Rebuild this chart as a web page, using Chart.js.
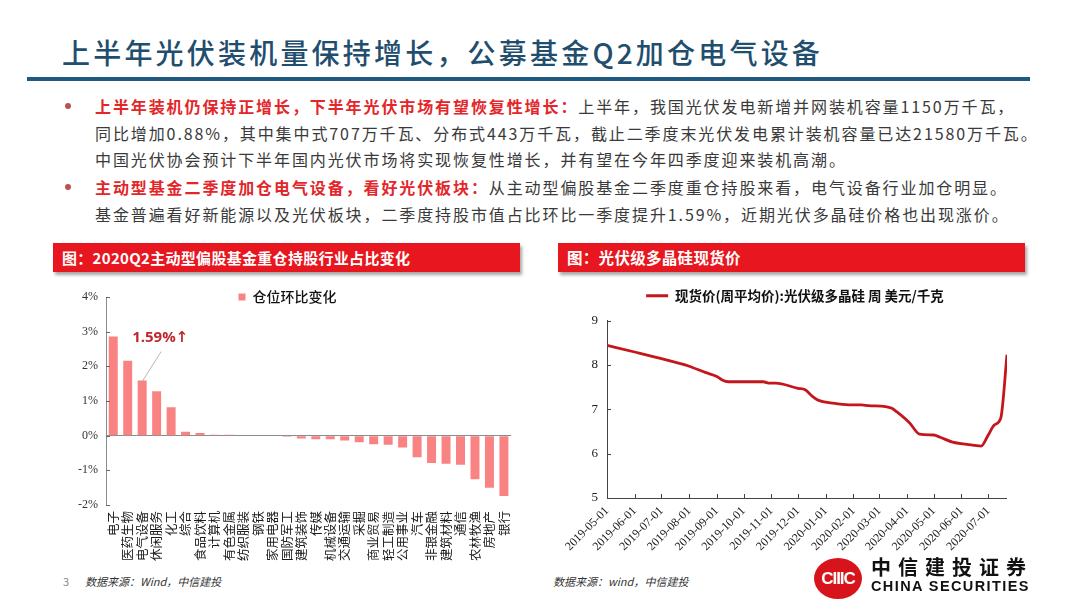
<!DOCTYPE html>
<html><head><meta charset="utf-8">
<script src="https://cdn.jsdelivr.net/npm/chart.js@4.4.1/dist/chart.umd.min.js"></script>
<style>
html,body{margin:0;padding:0;background:#fff;}
body{width:1080px;height:608px;position:relative;overflow:hidden;font-family:"Noto Sans CJK SC","Noto Sans",sans-serif;}
.title{position:absolute;left:62px;top:30px;font-size:28px;line-height:44px;font-weight:500;color:#1F4E6E;letter-spacing:3.2px;white-space:nowrap;}
.rule{position:absolute;left:27px;top:77px;width:1003px;height:4px;background:#1F5A7E;}
.line{position:absolute;left:95px;height:20px;line-height:20px;font-size:16px;color:#3a3a3a;white-space:nowrap;letter-spacing:1.9px;}
.red{color:#E3262A;font-weight:bold;}
.dot{position:absolute;left:65px;width:6px;height:6px;border-radius:50%;background:#C0504D;}
.hdr{position:absolute;top:243px;height:29px;background:#E8161E;color:#fff;font-weight:bold;font-size:15px;line-height:29px;box-shadow:2px 3px 3px rgba(0,0,0,0.35);padding-left:9px;box-sizing:border-box;white-space:nowrap;letter-spacing:0.3px;}
.cv{position:absolute;}
.src{position:absolute;top:573px;font-size:11px;font-style:italic;color:#333;white-space:nowrap;}
.pg{position:absolute;left:63px;top:573px;font-size:11px;color:#888;}
.logo{position:absolute;left:814px;top:558px;width:48px;height:41px;border-radius:50%;background:#D7141C;color:#fff;font-family:"Liberation Sans",sans-serif;font-weight:bold;font-size:17px;line-height:41px;text-align:center;letter-spacing:-1px;}
.lt1{position:absolute;left:871px;top:555px;font-size:20px;line-height:24px;font-weight:bold;color:#111;letter-spacing:7px;white-space:nowrap;}
.lt2{position:absolute;left:871px;top:577px;font-size:14.5px;line-height:18px;font-weight:bold;color:#111;font-family:"Liberation Sans",sans-serif;white-space:nowrap;letter-spacing:1.4px;}
</style></head>
<body>
<div class="title">上半年光伏装机量保持增长，公募基金Q2加仓电气设备</div>
<div class="rule"></div>

<div class="dot" style="top:103px"></div>
<div class="line" style="top:96px"><span class="red">上半年装机仍保持正增长，下半年光伏市场有望恢复性增长：</span>上半年，我国光伏发电新增并网装机容量1150万千瓦，</div>
<div class="line" style="top:123px">同比增加0.88%，其中集中式707万千瓦、分布式443万千瓦，截止二季度末光伏发电累计装机容量已达21580万千瓦。</div>
<div class="line" style="top:149px">中国光伏协会预计下半年国内光伏市场将实现恢复性增长，并有望在今年四季度迎来装机高潮。</div>
<div class="dot" style="top:184px"></div>
<div class="line" style="top:177px"><span class="red">主动型基金二季度加仓电气设备，看好光伏板块：</span>从主动型偏股基金二季度重仓持股来看，电气设备行业加仓明显。</div>
<div class="line" style="top:204px">基金普遍看好新能源以及光伏板块，二季度持股市值占比环比一季度提升1.59%，近期光伏多晶硅价格也出现涨价。</div>

<div class="hdr" style="left:53px;width:467px;">图：2020Q2主动型偏股基金重仓持股行业占比变化</div>
<div class="hdr" style="left:558px;width:467px;font-size:15.5px;">图：光伏级多晶硅现货价</div>

<canvas id="c1" class="cv" width="470" height="298" style="left:55px;top:269px;width:470px;height:298px;"></canvas>
<canvas id="c2" class="cv" width="452" height="273" style="left:555px;top:287px;width:452px;height:273px;"></canvas>

<div class="pg">3</div>
<div class="src" style="left:85px;">数据来源：Wind，中信建投</div>
<div class="src" style="left:553px;">数据来源：wind，中信建投</div>
<div class="logo">CIIIC</div>
<div class="lt1">中信建投证券</div>
<div class="lt2">CHINA SECURITIES</div>

<script>
// ---- Left chart data ----
const industries = ['电子','医药生物','电气设备','休闲服务','化工','综合','食品饮料','计算机','有色金属','纺织服装','钢铁','家用电器','国防军工','建筑装饰','传媒','机械设备','交通运输','采掘','商业贸易','轻工制造','公用事业','汽车','非银金融','建筑材料','通信','农林牧渔','房地产','银行'];
const positionChange = [2.86, 2.16, 1.59, 1.28, 0.82, 0.11, 0.08, 0.03, 0.03, 0.01, -0.02, -0.02, -0.03, -0.08, -0.10, -0.10, -0.14, -0.19, -0.25, -0.26, -0.34, -0.62, -0.79, -0.81, -0.84, -1.26, -1.50, -1.74];
const leftSeriesName = '仓位环比变化';
const highlightIndex = 2;

// ---- Right chart data ----
const priceSeriesName = '现货价(周平均价):光伏级多晶硅 周 美元/千克';
const priceDates = ['2019-05-01','2019-06-01','2019-07-01','2019-08-01','2019-08-19','2019-09-01','2019-09-07','2019-09-14','2019-10-23','2019-10-29','2019-11-06','2019-12-01','2019-12-09','2019-12-16','2019-12-24','2020-01-08','2020-01-27','2020-02-10','2020-02-18','2020-03-08','2020-03-15','2020-03-20','2020-04-04','2020-04-15','2020-05-01','2020-05-08','2020-05-22','2020-06-07','2020-06-23','2020-07-01','2020-07-08','2020-07-15','2020-07-22'];
const priceValues = [8.44, 8.29, 8.14, 7.97, 7.83, 7.74, 7.66, 7.62, 7.62, 7.59, 7.59, 7.47, 7.44, 7.31, 7.20, 7.14, 7.10, 7.10, 7.08, 7.06, 7.02, 6.95, 6.69, 6.44, 6.42, 6.37, 6.26, 6.21, 6.17, 6.42, 6.65, 6.80, 8.23];
const monthTicks = ['2019-05-01','2019-06-01','2019-07-01','2019-08-01','2019-09-01','2019-10-01','2019-11-01','2019-12-01','2020-01-01','2020-02-01','2020-03-01','2020-04-01','2020-05-01','2020-06-01','2020-07-01'];

const dayOf = d => (Date.parse(d + 'T00:00:00Z') - Date.parse(priceDates[0] + 'T00:00:00Z')) / 864e5;

const inwardTicks = {
  id: 'inwardTicks',
  afterDraw(chart, args, o) {
    const ctx = chart.ctx, a = chart.chartArea;
    ctx.save(); ctx.strokeStyle = o.color || '#555'; ctx.lineWidth = 1;
    if (o.y) {
      const s = chart.scales.y;
      s.ticks.forEach(t => { const py = Math.round(s.getPixelForValue(t.value)) + 0.5; ctx.beginPath(); ctx.moveTo(a.left, py); ctx.lineTo(a.left + o.len, py); ctx.stroke(); });
    }
    if (o.x) {
      const s = chart.scales.x;
      s.ticks.forEach(t => { const px = Math.round(s.getPixelForValue(t.value)) + 0.5; ctx.beginPath(); ctx.moveTo(px, a.bottom); ctx.lineTo(px, a.bottom - o.len); ctx.stroke(); });
    }
    ctx.restore();
  }
};
const legendShift = {
  id: 'legendShift',
  afterLayout(chart, args, o) {
    if (!chart.legend) return;
    if (o.dy) { chart.legend.top += o.dy; chart.legend.bottom += o.dy; }
    if (o.dx) { chart.legend.left += o.dx; chart.legend.right += o.dx; }
  }
};
const callout = {
  id: 'callout',
  afterDatasetsDraw(chart, args, o) {
    const bar = chart.getDatasetMeta(0).data[o.index];
    if (!bar) return;
    const ctx = chart.ctx;
    ctx.save();
    ctx.strokeStyle = '#A6A6A6'; ctx.lineWidth = 0.8;
    ctx.beginPath(); ctx.moveTo(bar.x, bar.y + 1); ctx.lineTo(bar.x + 19, bar.y - 29); ctx.stroke();
    ctx.fillStyle = '#C0282E'; ctx.font = 'bold 15px "Open Sans", "DejaVu Sans", sans-serif';
    ctx.textBaseline = 'middle'; ctx.textAlign = 'left';
    ctx.fillText(o.text, bar.x - 10, bar.y - 43);
    ctx.restore();
  }
};

const CJK = '"Noto Sans CJK SC", sans-serif';
const SERIF = '"Liberation Serif", "DejaVu Serif", serif';

new Chart(document.getElementById('c1'), {
  type: 'bar',
  data: { labels: industries, datasets: [{ label: leftSeriesName, data: positionChange, backgroundColor: '#F98282', barPercentage: 0.62, categoryPercentage: 1 }] },
  options: {
    responsive: false, animation: false,
    layout: { padding: { top: 0, right: 5, left: 0, bottom: 0 } },
    plugins: {
      legend: { display: true, position: 'top', labels: { boxWidth: 7, boxHeight: 7, padding: 4, color: '#111', font: { size: 14, family: CJK, weight: '500' } } },
      tooltip: { enabled: false },
      inwardTicks: { y: true, len: 4, color: '#666' },
      legendShift: { dy: 17 },
      callout: { index: highlightIndex, text: positionChange[highlightIndex].toFixed(2) + '%↑' }
    },
    scales: {
      x: { grid: { display: false, drawTicks: false }, border: { display: false },
           ticks: { autoSkip: false, maxRotation: 90, minRotation: 90, padding: 6, color: '#1a1a1a', font: { size: 12.5, family: CJK } },
           afterFit(s) { s.height = 62; } },
      y: { min: -2, max: 4,
           ticks: { stepSize: 1, callback: v => v + '%', padding: 8, color: '#333', font: { size: 12, family: SERIF } },
           grid: { drawTicks: false, color: c => (c.tick && c.tick.value === 0) ? '#8c8c8c' : 'rgba(0,0,0,0)' },
           border: { display: true, color: '#8c8c8c' },
           afterFit(s) { s.width = 51; } }
    }
  },
  plugins: [inwardTicks, legendShift, callout]
});

new Chart(document.getElementById('c2'), {
  type: 'line',
  data: { datasets: [{ label: priceSeriesName, data: priceDates.map((d, i) => ({ x: dayOf(d), y: priceValues[i] })), borderColor: '#C4161C', backgroundColor: '#C4161C', borderWidth: 2.8, pointRadius: 0, cubicInterpolationMode: 'monotone', tension: 0.3 }] },
  options: {
    responsive: false, animation: false,
    layout: { padding: { top: 0, right: 0, left: 0, bottom: 0 } },
    plugins: {
      legend: { display: true, position: 'top', labels: { usePointStyle: true, pointStyle: 'line', pointStyleWidth: 22, padding: 10, color: '#111', font: { size: 13.5, family: CJK, weight: 'bold' } } },
      tooltip: { enabled: false },
      inwardTicks: { x: true, y: true, len: 4, color: '#444' },
      legendShift: { dy: -8, dx: 14 }
    },
    scales: {
      x: { type: 'linear', min: 0, max: dayOf(priceDates[priceDates.length - 1]),
           afterBuildTicks(s) { s.ticks = monthTicks.map(m => ({ value: dayOf(m) })); },
           grid: { display: false, drawTicks: false }, border: { display: true, color: '#444' },
           ticks: { autoSkip: false, maxRotation: 45, minRotation: 45, padding: 6, color: '#222', font: { size: 12, family: SERIF },
                    callback: v => { const m = monthTicks.find(t => Math.abs(dayOf(t) - v) < 0.5); return m || ''; } },
           afterFit(s) { s.height = 62; } },
      y: { min: 5, max: 9,
           ticks: { stepSize: 1, padding: 9, color: '#222', font: { size: 13, family: SERIF } },
           grid: { display: false, drawTicks: false }, border: { display: true, color: '#444' },
           afterFit(s) { s.width = 52; } }
    }
  },
  plugins: [inwardTicks, legendShift]
});
</script>
</body></html>
